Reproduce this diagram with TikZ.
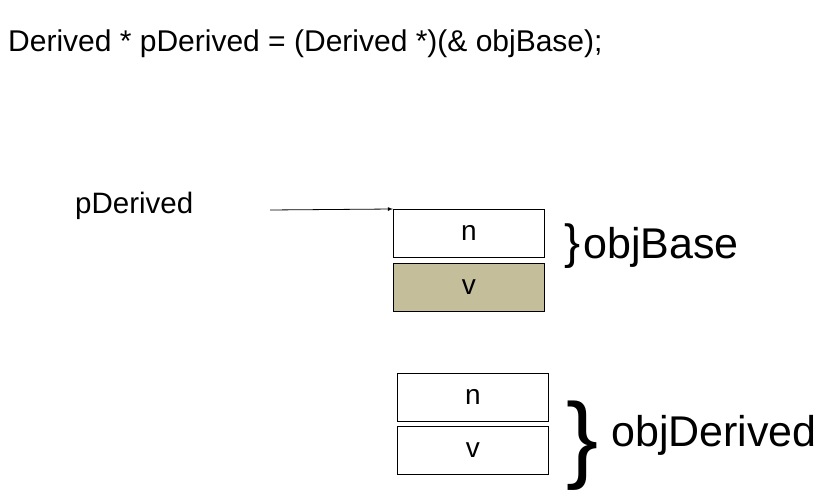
\documentclass[tikz,border=0pt]{standalone}
\usepackage{fontspec}
\setmainfont{Liberation Sans}
\begin{document}
\begin{tikzpicture}[x=1pt,y=-1pt,
  cell/.style={draw,line width=0.8pt,minimum width=151pt,minimum height=48pt,inner sep=0pt,font=\fontsize{28}{32}\selectfont},
  lbl/.style={inner sep=0pt,anchor=west}]
\useasboundingbox (0,0) rectangle (840,502);
\definecolor{tan}{HTML}{C4BE9B}
\node[lbl] (title) at (8,44) {\fontsize{30}{36}\selectfont Derived * pDerived = (Derived *)(\& objBase);};
\node[lbl] (pd) at (75,206) {\fontsize{29.5}{34}\selectfont pDerived};
\node[cell,anchor=north west] (bn) at (393,209) {n};
\node[cell,anchor=north west,fill=tan] (bv) at (393,263) {v};
\node[cell,anchor=north west] (dn) at (397,373) {n};
\node[cell,anchor=north west] (dv) at (397,426) {v};
\coordinate (as) at (270,210);
\draw[-latex,line width=0.8pt] (as) -- (bn.north west);
\node[lbl] (br1) at (564,246) {\fontsize{48}{52}\selectfont \}};
\node[lbl] (ob) at (583,247) {\fontsize{43}{48}\selectfont objBase};
\node[lbl] (br2) at (566,446) {\fontsize{96}{100}\selectfont \}};
\node[lbl] (od) at (611,435) {\fontsize{43}{48}\selectfont objDerived};
\end{tikzpicture}
\end{document}
